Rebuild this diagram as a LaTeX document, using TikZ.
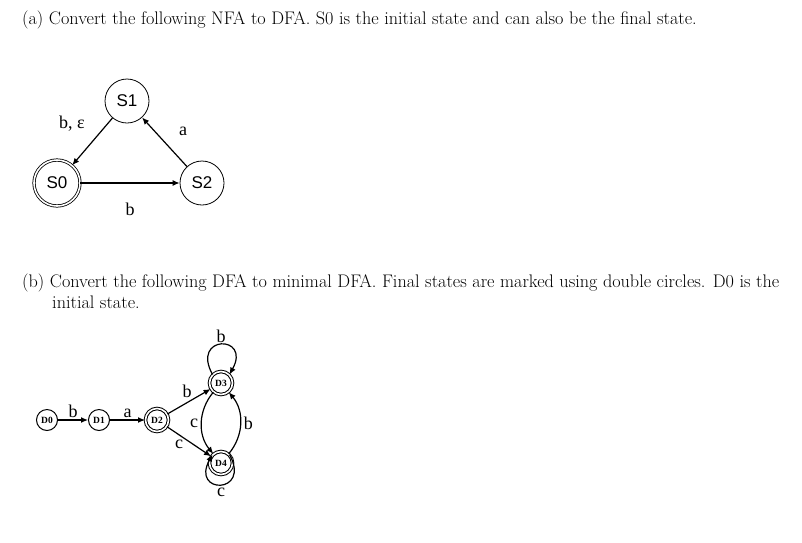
\documentclass[tikz,border=0pt]{standalone}
\usepackage{fontspec}
\newfontfamily\hel{Liberation Sans}
\newfontfamily\tms{Liberation Serif}
\usetikzlibrary{arrows.meta}
\begin{document}
\begin{tikzpicture}[x=1pt,y=-1pt,
  snode/.style={circle,draw,line width=0.8pt,minimum size=44pt,inner sep=0pt,font=\hel\fontsize{17}{17}\selectfont},
  dnode/.style={circle,draw,line width=1pt,minimum size=21pt,inner sep=0pt,font=\tms\bfseries\fontsize{9.5}{9.5}\selectfont},
  acc/.style={double,double distance=1.6pt},
  edge/.style={-{Latex[length=7pt,width=6pt]},line width=1.2pt},
  lab/.style={font=\tms\fontsize{18}{18}\selectfont,inner sep=0pt},
  txt/.style={anchor=west,inner sep=0pt,font=\fontsize{18.2}{20}\selectfont}]
\useasboundingbox (0,0) rectangle (802,542);
\node[txt] (ta) at (22,20) {(a)\ Convert the following NFA to DFA. S0 is the initial state and can also be the final state.};
\node[snode] (s1) at (127,101) {S1};
\node[snode,acc,minimum size=46pt] (s0) at (57,183) {S0};
\node[snode] (s2) at (202,183) {S2};
\draw[edge] (s1) -- (s0);
\draw[edge] (s2) -- (s1);
\draw[edge] (s0) -- (s2);
\node[lab] (l1) at (72,124) {b, ε};
\node[lab] (l2) at (183,131) {a};
\node[lab] (l3) at (130,209) {b};
\node[txt] (tb) at (22,283) {(b)\ Convert the following DFA to minimal DFA. Final states are marked using double circles. D0 is the};
\node[txt] (tb2) at (52,302) {initial state.};
\node[dnode] (d0) at (47,420) {D0};
\node[dnode] (d1) at (99,420) {D1};
\node[dnode,acc,minimum size=23pt] (d2) at (157,420) {D2};
\node[dnode,acc,minimum size=23pt] (d3) at (221,383) {D3};
\node[dnode,acc,minimum size=23pt] (d4) at (221,463) {D4};
\draw[edge] (d0) -- node[lab,above=2pt] {b} (d1);
\draw[edge] (d1) -- node[lab,above=2pt] {a} (d2);
\draw[edge] (d2) -- node[lab,above left=1pt,pos=0.6] {b} (d3);
\draw[edge] (d2) -- node[lab,below left=1pt,pos=0.4] {c} (d4);
\draw[edge] (d3.230) to[bend right=40] node[lab,left=3pt] {c} (d4.130);
\draw[edge] (d4.50) to[bend right=40] node[lab,right=3pt] {b} (d3.310);
\draw[edge] (d3.135) .. controls +(-22,-40) and +(22,-40) .. node[lab,above=1pt] {b} (d3.45);
\draw[edge] (d4.45) .. controls +(22,40) and +(-22,40) .. node[lab,below=3pt] {c} (d4.135);
\end{tikzpicture}
\end{document}
